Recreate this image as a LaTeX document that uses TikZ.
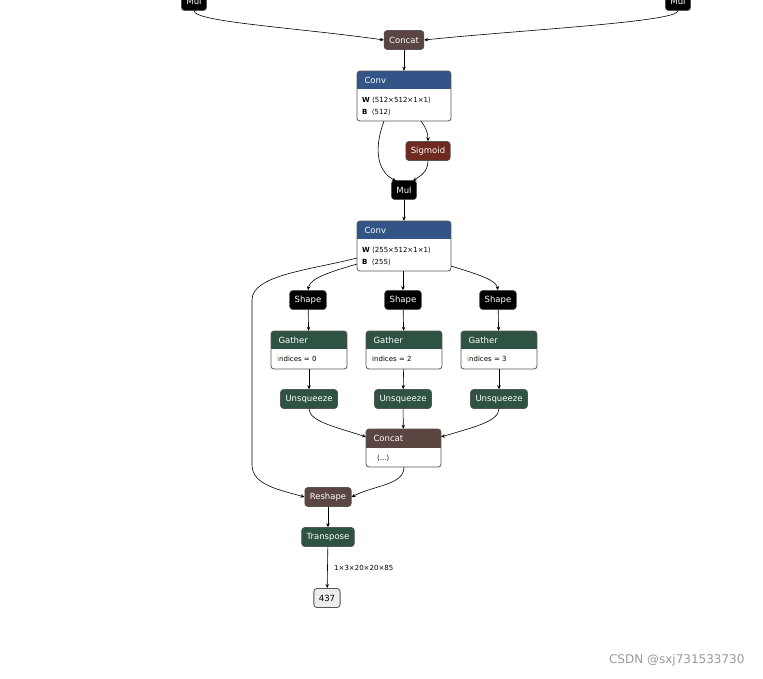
\documentclass[tikz,border=0pt]{standalone}
\usepackage{fontspec}
\setmainfont{DejaVu Sans}
\usetikzlibrary{arrows.meta}
\definecolor{convc}{HTML}{335487}
\definecolor{brownc}{HTML}{5A4540}
\definecolor{sigc}{HTML}{6E2A20}
\definecolor{greenc}{HTML}{2F5343}
\definecolor{bordc}{HTML}{555555}
\newcommand{\twobox}[8]{%
  \begin{scope}
  \path[clip,rounded corners=3pt] (#2,#3) rectangle (#4,#6);
  \fill[white] (#2,#3) rectangle (#4,#6);
  \fill[#7] (#2,#3) rectangle (#4,#5);
  \end{scope}
  \draw[bordc,line width=0.8pt,rounded corners=3pt] (#2,#3) rectangle (#4,#6);
  \node[inner sep=0,minimum width=#4pt-#2pt,minimum height=#6pt-#3pt] (#1) at ({(#2+#4)/2},{(#3+#6)/2}) {};
  \node[anchor=west,text=white,font=\fontsize{8.5}{10}\selectfont] (#1t) at (#2+4,{(#3+#5)/2}) {#8};
}
\tikzset{
  op/.style={rounded corners=3pt, draw=bordc, line width=0.6pt, fill=#1, text=white, minimum height=19pt, inner xsep=5pt, inner ysep=0pt, font=\fontsize{8.5}{10}\selectfont},
  lbl/.style={anchor=west, inner sep=0, font=\fontsize{7}{8}\selectfont},
  e/.style={-{Stealth[length=4pt,width=3.5pt]}, line width=0.6pt},
}
\begin{document}
\begin{tikzpicture}[x=1pt,y=-1pt]
\useasboundingbox (0,0) rectangle (763,679);
\fill[white] (0,0) rectangle (763,679);
% top
\node[op=black] (mulL) at (194,1) {Mul};
\node[op=black] (mulR) at (678,1) {Mul};
\node[op=brownc] (cat1) at (404,40) {Concat};
\twobox{conv1}{357}{71}{451}{89}{121}{convc}{Conv}
\node[lbl] (w1) at (362,100) {\textbf{W}\ ⟨512×512×1×1⟩};
\node[lbl] (b1) at (362,112) {\textbf{B}\ \ ⟨512⟩};
\node[op=sigc] (sig) at (428,151) {Sigmoid};
\node[op=black] (mul) at (404,190) {Mul};
\twobox{conv2}{357}{221}{451}{239}{271}{convc}{Conv}
\node[lbl] (w2) at (362,250) {\textbf{W}\ ⟨255×512×1×1⟩};
\node[lbl] (b2) at (362,262) {\textbf{B}\ \ ⟨255⟩};
% shapes
\node[op=black] (sh1) at (308,300) {Shape};
\node[op=black] (sh2) at (403,300) {Shape};
\node[op=black] (sh3) at (498,300) {Shape};
\twobox{g1}{271}{331}{347}{349}{369}{greenc}{Gather}
\twobox{g2}{366}{331}{442}{349}{369}{greenc}{Gather}
\twobox{g3}{461}{331}{537}{349}{369}{greenc}{Gather}
\node[lbl] (i1) at (277,359) {\textcolor{orange!80!black}{i}ndices = 0};
\node[lbl] (i2) at (372,359) {indices = 2};
\node[lbl] (i3) at (467,359) {\textcolor{orange!80!black}{i}ndices = 3};
\node[op=greenc] (u1) at (309,399) {Unsqueeze};
\node[op=greenc] (u2) at (403,399) {Unsqueeze};
\node[op=greenc] (u3) at (499,399) {Unsqueeze};
\twobox{cat2}{366}{429}{441}{448}{467}{brownc}{Concat}
\node[lbl] (dots) at (377,458) {⟨...⟩};
\node[op=brownc] (resh) at (328,497) {Reshape};
\node[op=greenc] (tr) at (328,537) {Transpose};
\node[rounded corners=3pt, draw=bordc, line width=0.8pt, fill=gray!15, minimum height=19pt, inner xsep=5pt, inner ysep=0pt, font=\fontsize{8.5}{10}\selectfont] (out) at (327,598) {437};
\node[lbl] (dim) at (334,568) {1×3×20×20×85};
\node[anchor=east, text=gray!80, font=\fontsize{12}{14}\selectfont] (wm) at (748,660) {CSDN @sxj731533730};
% edges
\draw[e] (mulL.south) .. controls (194,22) and (300,28) .. (cat1.west);
\draw[e] (mulR.south) .. controls (678,22) and (520,30) .. (cat1.east);
\draw[e] (cat1) -- (conv1);
\draw[e] (384,121) .. controls (375,145) and (375,170) .. (396,181);
\draw[e] (421,121) .. controls (426,128) and (428,133) .. (sig.north);
\draw[e] (sig.south) .. controls (428,172) and (420,176) .. (413,181);
\draw[e] (mul) -- (conv2);
\draw[e] (357,258) .. controls (310,270) and (252,275) .. (252,300) -- (252,465) .. controls (252,485) and (280,490) .. (resh.west);
\draw[e] (357,264) .. controls (330,272) and (310,278) .. (sh1.north);
\draw[e] (403,271) -- (sh2);
\draw[e] (451,266) .. controls (480,275) and (496,280) .. (sh3.north);
\draw[e] (sh1) -- (g1); \draw[e] (sh2) -- (g2); \draw[e] (sh3) -- (g3);
\draw[e] (g1) -- (u1); \draw[e] (g2) -- (u2); \draw[e] (g3) -- (u3);
\draw[e] (u1.south) .. controls (309,422) and (340,428) .. (366,437);
\draw[e] (u2) -- (cat2);
\draw[e] (u3.south) .. controls (499,422) and (470,428) .. (441,437);
\draw[e] (404,467) .. controls (404,485) and (375,485) .. (resh.east);
\draw[e] (resh) -- (tr);
\draw[e] (tr) -- (out);
\end{tikzpicture}
\end{document}
